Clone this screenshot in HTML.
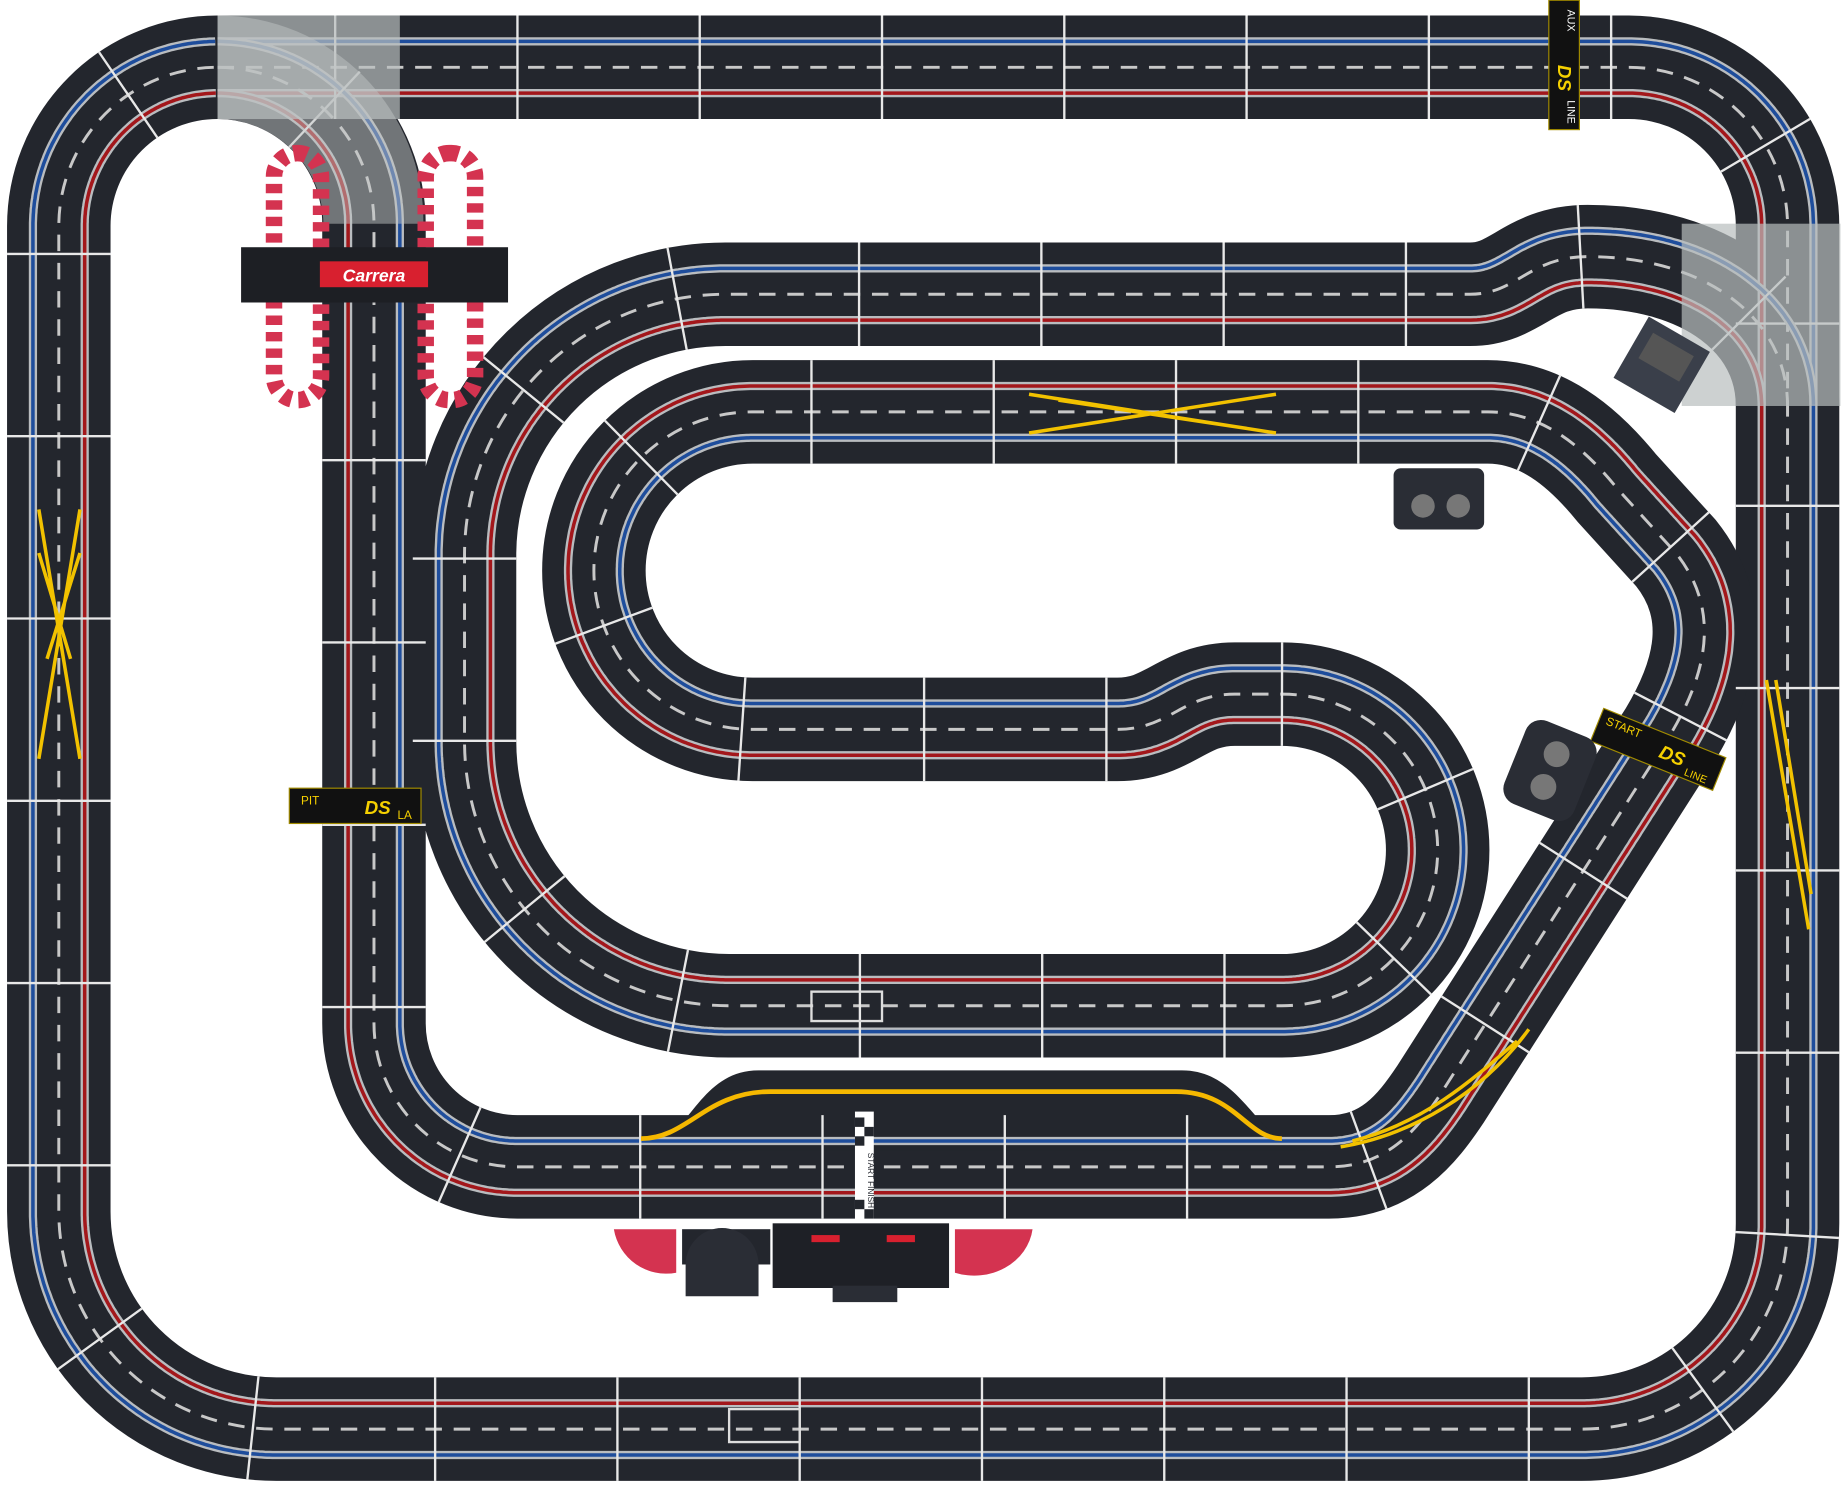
<!DOCTYPE html>
<html><head><meta charset="utf-8"><style>
html,body{margin:0;padding:0;background:#fff;}
svg{display:block;}
</style></head><body>
<svg id="s" width="1844" height="1487" viewBox="0 0 1568 1264" xmlns="http://www.w3.org/2000/svg" font-family="Liberation Sans, sans-serif">
<g id="tracks" fill="none" stroke="#23262d" stroke-width="88">
<path id="A" d="M185,57 H1385 A135,135 0 0 1 1520,192 V1040 A175,175 0 0 1 1345,1215 H235 A185,185 0 0 1 50,1030 V192 A135,135 0 0 1 185,57 Z"/>
<path id="B" d="M185,57 A133,133 0 0 1 318,190 V870 A122,122 0 0 0 440,992 H1130 C1180,992 1205,960 1225,930 L1420,625 C1450,575 1465,520 1425,470 L1375,415 C1345,378 1310,350 1265,350 H640 A135,135 0 0 0 640,620 H950 C995,620 1005,590 1050,590 H1090 A132,132 0 0 1 1090,855 H620 A225,225 0 0 1 395,630 V470 A222,222 0 0 1 620,250 H1250 C1290,250 1300,218 1350,218 C1450,218 1520,270 1520,345"/>
</g>
<path d="M540,978 C585,978 590,910 645,910 H1005 C1060,910 1070,978 1115,978 Z" fill="#23262d"/>
<g id="overlay"></g>
<path d="M545,968 C585,968 600,928 655,928 H1000 C1050,928 1060,968 1090,968" fill="none" stroke="#f5b800" stroke-width="4"/>
<!-- crossovers -->
<rect x="185" y="13" width="155" height="88" fill="#b8bdbd" opacity="0.7"/>
<path d="M185,101 A90,90 0 0 1 275,190 L360,190 A175,175 0 0 0 185,13 Z" fill="#c0c4c4" opacity="0.5"/>
<rect x="1430" y="190" width="135" height="155" fill="#b8bdbd" opacity="0.7"/>
<!-- yellow X left -->
<g stroke="#f2c200" stroke-width="3" fill="none">
<path d="M33,433 L68,645 M68,433 L33,645 M33,470 L60,560 M68,470 L40,560"/>
<path d="M875,335 L1085,368 M875,368 L1085,335 M900,340 L1060,364"/>
<path d="M1502,578 L1538,790 M1510,578 L1540,760"/>
<path d="M1140,975 C1200,965 1260,930 1300,875 M1150,970 C1210,955 1250,920 1290,885"/>
</g>
<!-- start finish -->
<rect x="727" y="945" width="16" height="95" fill="#fff"/>
<g fill="#23262d"><rect x="727" y="950" width="8" height="8"/><rect x="735" y="958" width="8" height="8"/><rect x="727" y="966" width="8" height="8"/><rect x="727" y="1020" width="8" height="8"/><rect x="735" y="1028" width="8" height="8"/></g>
<text x="0" y="0" font-size="7" fill="#23262d" transform="translate(738,980) rotate(90)">START FINISH</text>
<rect x="690" y="843" width="60" height="25" fill="none" stroke="#ddd" stroke-width="2"/>
<rect x="620" y="1198" width="60" height="28" fill="none" stroke="#ddd" stroke-width="2"/>
<!-- gantry kerbs -->
<g fill="none" stroke="#d43350" stroke-width="14" stroke-dasharray="8 6">
<rect x="233" y="130" width="40" height="210" rx="20"/>
<rect x="362" y="130" width="42" height="210" rx="20"/>
</g>
<rect x="205" y="210" width="227" height="47" fill="#1d1f24"/>
<rect x="272" y="222" width="92" height="22" fill="#d8202f"/>
<text x="318" y="239" font-size="15" font-style="italic" font-weight="bold" fill="#fff" text-anchor="middle">Carrera</text>
<!-- DS signs -->
<rect x="1317" y="0" width="26" height="110" fill="#111" stroke="#a08a00"/>
<text font-size="9" fill="#fff" transform="translate(1333,8) rotate(90)">AUX</text>
<text font-size="16" font-weight="bold" font-style="italic" fill="#f5d000" transform="translate(1325,55) rotate(90)">DS</text>
<text font-size="9" fill="#fff" transform="translate(1333,85) rotate(90)">LINE</text>
<rect x="246" y="670" width="112" height="30" fill="#111" stroke="#a08a00"/>
<text x="256" y="684" font-size="10" fill="#f5d000">PIT</text>
<text x="310" y="692" font-size="16" font-weight="bold" font-style="italic" fill="#f5d000">DS</text>
<text x="338" y="696" font-size="10" fill="#f5d000">LA</text>
<g transform="translate(1410,637) rotate(22)">
<rect x="-56" y="-15" width="112" height="30" fill="#111" stroke="#a08a00"/>
<text x="-50" y="-3" font-size="10" fill="#f5d000">START</text>
<text x="2" y="6" font-size="16" font-weight="bold" font-style="italic" fill="#f5d000">DS</text>
<text x="28" y="12" font-size="9" fill="#f5d000">LINE</text>
</g>
<!-- power bases -->
<rect x="1185" y="398" width="77" height="52" rx="6" fill="#2a2d35"/>
<circle cx="1210" cy="430" r="10" fill="#777"/><circle cx="1240" cy="430" r="10" fill="#777"/>
<g transform="translate(1318,655) rotate(22)"><rect x="-32" y="-38" width="64" height="76" rx="14" fill="#2a2d35"/><circle cx="0" cy="-15" r="11" fill="#777"/><circle cx="0" cy="15" r="11" fill="#777"/></g>
<g transform="translate(1413,310) rotate(30)"><rect x="-30" y="-30" width="60" height="60" fill="#3a3f4a"/><rect x="-20" y="-20" width="40" height="25" fill="#555"/></g>
<!-- bottom buildings -->
<path d="M522,1045 H575 V1082 A45,45 0 0 1 522,1045 Z" fill="#d43350"/>
<rect x="580" y="1045" width="75" height="30" fill="#23262d"/>
<path d="M583,1102 V1075 A30,30 0 0 1 645,1075 V1102 Z" fill="#2a2d35"/>
<rect x="657" y="1040" width="150" height="55" fill="#1e2026"/>
<rect x="708" y="1093" width="55" height="14" fill="#2a2d35"/>
<path d="M812,1045 H878 A50,45 0 0 1 812,1082 Z" fill="#d43350"/>
<rect x="690" y="1050" width="24" height="6" fill="#d8202f"/><rect x="754" y="1050" width="24" height="6" fill="#d8202f"/>
</svg>
<script>
(function(){
var NS="http://www.w3.org/2000/svg",ov=document.getElementById("overlay");
function mk(d,c,w,dash){var p=document.createElementNS(NS,"path");p.setAttribute("d",d);p.setAttribute("fill","none");p.setAttribute("stroke",c);p.setAttribute("stroke-width",w);if(dash)p.setAttribute("stroke-dasharray",dash);ov.appendChild(p);}
["A","B"].forEach(function(id){
 var p=document.getElementById(id),L=p.getTotalLength(),step=2;
 var left=[],right=[],divs=[];
 for(var s=0;s<=L;s+=step){
  var a=p.getPointAtLength(Math.max(0,s-1)),b=p.getPointAtLength(Math.min(L,s+1)),c=p.getPointAtLength(s);
  var tx=b.x-a.x,ty=b.y-a.y,n=Math.hypot(tx,ty)||1;tx/=n;ty/=n;
  var nx=ty,ny=-tx;
  left.push((c.x+nx*22).toFixed(1)+","+(c.y+ny*22).toFixed(1));
  right.push((c.x-nx*22).toFixed(1)+","+(c.y-ny*22).toFixed(1));
 }
 for(var s2=100;s2<L;s2+=155){
  var c2=p.getPointAtLength(s2),a2=p.getPointAtLength(s2-1),b2=p.getPointAtLength(s2+1);
  var tx2=b2.x-a2.x,ty2=b2.y-a2.y,n2=Math.hypot(tx2,ty2)||1;var nx2=ty2/n2,ny2=-tx2/n2;
  divs.push("M"+(c2.x+nx2*44).toFixed(1)+","+(c2.y+ny2*44).toFixed(1)+"L"+(c2.x-nx2*44).toFixed(1)+","+(c2.y-ny2*44).toFixed(1));
 }
 var dl="M"+left.join("L"),dr="M"+right.join("L");
 mk(dl,"#b9bcbf",7);mk(dl,"#1e4d9c",3);
 mk(dr,"#b9bcbf",7);mk(dr,"#a3171b",3);
 mk(p.getAttribute("d"),"#c8c8c8",2.5,"14 10");
 mk(divs.join(" "),"#e8e8e8",2);
});
})();
</script>
</body></html>
